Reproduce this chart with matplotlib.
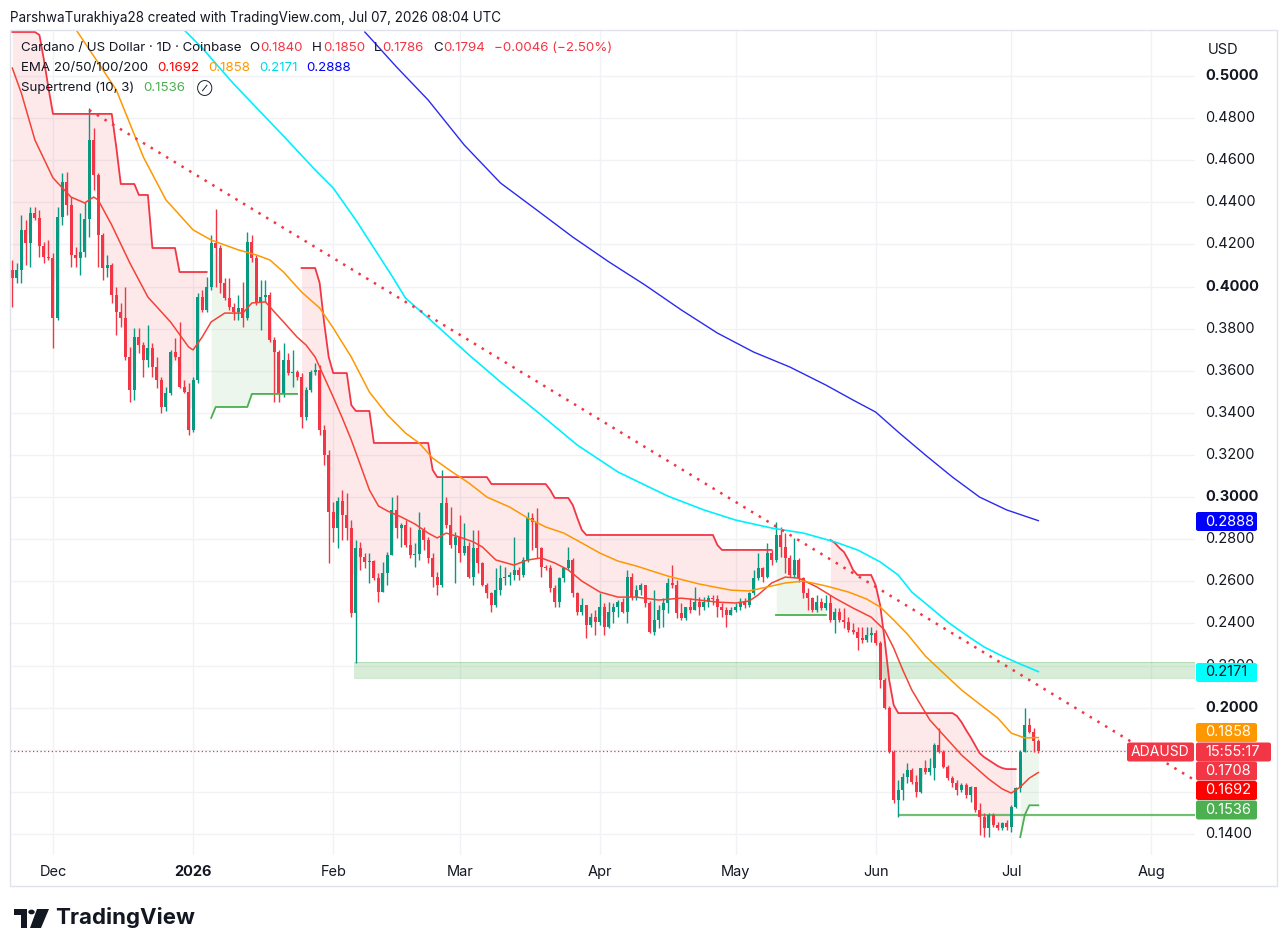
import numpy as np
import pandas as pd
import matplotlib
matplotlib.use('Agg')
import matplotlib.pyplot as plt
import matplotlib.dates as mdates
from matplotlib.patches import FancyBboxPatch, Rectangle, Polygon, Circle
from matplotlib.transforms import blended_transform_factory

plt.rcParams['font.family'] = ['Inter', 'DejaVu Sans']

# ---- data (ADAUSD daily, Coinbase) ----
start = '2025-11-22'
open0 = 0.4079
close = [0.4041, 0.4079, 0.4269, 0.4207, 0.4349, 0.4326, 0.4192, 0.4140, 0.4136, 0.3851,
         0.4330, 0.4496, 0.4387, 0.4150, 0.4136, 0.4164, 0.4321, 0.4696, 0.4530, 0.4245,
         0.4088, 0.4102, 0.3960, 0.3879, 0.3851, 0.3665, 0.3509, 0.3760, 0.3722, 0.3651,
         0.3708, 0.3618, 0.3556, 0.3428, 0.3494, 0.3689, 0.3665, 0.3523, 0.3499, 0.3319,
         0.3556, 0.3950, 0.3889, 0.3998, 0.4207, 0.4183, 0.4017, 0.3946, 0.3903, 0.3879,
         0.3898, 0.3851, 0.4211, 0.4136, 0.3927, 0.3950, 0.3960, 0.3746, 0.3689, 0.3494,
         0.3651, 0.3589, 0.3594, 0.3570, 0.3380, 0.3509, 0.3594, 0.3604, 0.3319, 0.3200,
         0.2929, 0.2853, 0.2981, 0.2915, 0.2853, 0.2449, 0.2758, 0.2715, 0.2692, 0.2696,
         0.2615, 0.2549, 0.2639, 0.2725, 0.2939, 0.2853, 0.2867, 0.2772, 0.2725, 0.2730,
         0.2844, 0.2796, 0.2711, 0.2620, 0.2582, 0.2972, 0.2867, 0.2772, 0.2810, 0.2734,
         0.2768, 0.2620, 0.2758, 0.2687, 0.2582, 0.2544, 0.2487, 0.2558, 0.2615, 0.2620,
         0.2630, 0.2654, 0.2630, 0.2701, 0.2901, 0.2882, 0.2758, 0.2668, 0.2663, 0.2568,
         0.2501, 0.2615, 0.2663, 0.2701, 0.2544, 0.2454, 0.2487, 0.2392, 0.2430, 0.2406,
         0.2478, 0.2383, 0.2454, 0.2478, 0.2501, 0.2454, 0.2620, 0.2525, 0.2558, 0.2582,
         0.2497, 0.2359, 0.2416, 0.2463, 0.2497, 0.2592, 0.2582, 0.2449, 0.2425, 0.2478,
         0.2463, 0.2501, 0.2478, 0.2501, 0.2520, 0.2516, 0.2478, 0.2463, 0.2440, 0.2463,
         0.2478, 0.2501, 0.2487, 0.2544, 0.2615, 0.2663, 0.2620, 0.2734, 0.2701, 0.2820,
         0.2763, 0.2711, 0.2630, 0.2701, 0.2615, 0.2544, 0.2520, 0.2463, 0.2501, 0.2473,
         0.2497, 0.2416, 0.2454, 0.2416, 0.2406, 0.2368, 0.2359, 0.2331, 0.2321, 0.2345,
         0.2354, 0.2307, 0.2131, 0.1998, 0.1789, 0.1561, 0.1609, 0.1670, 0.1703, 0.1647,
         0.1599, 0.1713, 0.1694, 0.1713, 0.1822, 0.1789, 0.1718, 0.1665, 0.1642, 0.1609,
         0.1632, 0.1585, 0.1623, 0.1514, 0.1480, 0.1428, 0.1490, 0.1442, 0.1428, 0.1452,
         0.1433, 0.1528, 0.1618, 0.1789, 0.1917, 0.1884, 0.1840, 0.1794]
high = [0.4126, 0.4112, 0.4340, 0.4316, 0.4378, 0.4378, 0.4364, 0.4211, 0.4221, 0.4159,
        0.4378, 0.4539, 0.4544, 0.4425, 0.4188, 0.4349, 0.4401, 0.4848, 0.4753, 0.4539,
        0.4254, 0.4150, 0.4112, 0.3998, 0.3922, 0.3998, 0.3713, 0.3803, 0.3803, 0.3737,
        0.3817, 0.3732, 0.3665, 0.3570, 0.3523, 0.3699, 0.3756, 0.3832, 0.3556, 0.3542,
        0.3570, 0.3969, 0.3984, 0.4045, 0.4245, 0.4368, 0.4197, 0.4041, 0.4041, 0.3922,
        0.3960, 0.4022, 0.4259, 0.4245, 0.4150, 0.4031, 0.4031, 0.3974, 0.3760, 0.3699,
        0.3732, 0.3684, 0.3699, 0.3604, 0.3589, 0.3523, 0.3604, 0.3637, 0.3627, 0.3342,
        0.3224, 0.2977, 0.3000, 0.3034, 0.3019, 0.2891, 0.2796, 0.2787, 0.2734, 0.2734,
        0.2701, 0.2639, 0.2692, 0.2739, 0.3000, 0.3010, 0.2877, 0.2891, 0.2858, 0.2782,
        0.2929, 0.2858, 0.2810, 0.2734, 0.2644, 0.3129, 0.3000, 0.2953, 0.2834, 0.2915,
        0.2877, 0.2787, 0.2844, 0.2844, 0.2692, 0.2592, 0.2549, 0.2663, 0.2677, 0.2668,
        0.2644, 0.2810, 0.2668, 0.2715, 0.2929, 0.2924, 0.2948, 0.2763, 0.2677, 0.2677,
        0.2582, 0.2620, 0.2668, 0.2763, 0.2711, 0.2549, 0.2520, 0.2478, 0.2449, 0.2463,
        0.2544, 0.2497, 0.2501, 0.2497, 0.2511, 0.2520, 0.2654, 0.2639, 0.2582, 0.2592,
        0.2558, 0.2506, 0.2558, 0.2487, 0.2520, 0.2615, 0.2677, 0.2606, 0.2497, 0.2478,
        0.2520, 0.2573, 0.2525, 0.2525, 0.2535, 0.2535, 0.2535, 0.2497, 0.2478, 0.2478,
        0.2497, 0.2520, 0.2520, 0.2549, 0.2654, 0.2734, 0.2668, 0.2782, 0.2749, 0.2882,
        0.2858, 0.2829, 0.2725, 0.2806, 0.2711, 0.2620, 0.2568, 0.2525, 0.2535, 0.2520,
        0.2535, 0.2535, 0.2473, 0.2473, 0.2473, 0.2430, 0.2402, 0.2383, 0.2383, 0.2383,
        0.2383, 0.2368, 0.2316, 0.2140, 0.2007, 0.1799, 0.1656, 0.1689, 0.1737, 0.1713,
        0.1680, 0.1713, 0.1751, 0.1760, 0.1832, 0.1903, 0.1799, 0.1727, 0.1675, 0.1656,
        0.1642, 0.1642, 0.1627, 0.1594, 0.1547, 0.1499, 0.1499, 0.1499, 0.1457, 0.1457,
        0.1466, 0.1537, 0.1623, 0.1799, 0.1998, 0.1951, 0.1903, 0.1850]
low = [0.3903, 0.4017, 0.4017, 0.4102, 0.4093, 0.4316, 0.4140, 0.4112, 0.4126, 0.3708,
       0.3841, 0.4292, 0.4340, 0.4093, 0.4093, 0.4055, 0.4140, 0.4235, 0.4459, 0.4093,
       0.4031, 0.4045, 0.3922, 0.3770, 0.3808, 0.3651, 0.3452, 0.3461, 0.3684, 0.3570,
       0.3618, 0.3570, 0.3518, 0.3399, 0.3409, 0.3485, 0.3651, 0.3518, 0.3494, 0.3295,
       0.3309, 0.3542, 0.3879, 0.3879, 0.3984, 0.3998, 0.3969, 0.3936, 0.3889, 0.3841,
       0.3841, 0.3808, 0.3841, 0.4117, 0.3912, 0.3794, 0.3927, 0.3737, 0.3452, 0.3452,
       0.3475, 0.3580, 0.3523, 0.3556, 0.3328, 0.3366, 0.3499, 0.3580, 0.3295, 0.3153,
       0.2687, 0.2787, 0.2758, 0.2796, 0.2796, 0.2430, 0.2212, 0.2654, 0.2663, 0.2592,
       0.2606, 0.2501, 0.2549, 0.2582, 0.2725, 0.2806, 0.2763, 0.2763, 0.2711, 0.2668,
       0.2701, 0.2749, 0.2687, 0.2573, 0.2535, 0.2573, 0.2853, 0.2758, 0.2592, 0.2692,
       0.2725, 0.2615, 0.2582, 0.2639, 0.2578, 0.2520, 0.2454, 0.2478, 0.2535, 0.2582,
       0.2582, 0.2606, 0.2606, 0.2620, 0.2692, 0.2749, 0.2711, 0.2620, 0.2654, 0.2549,
       0.2478, 0.2478, 0.2596, 0.2654, 0.2525, 0.2440, 0.2440, 0.2331, 0.2383, 0.2345,
       0.2392, 0.2345, 0.2378, 0.2402, 0.2430, 0.2449, 0.2402, 0.2511, 0.2511, 0.2535,
       0.2478, 0.2354, 0.2345, 0.2378, 0.2383, 0.2449, 0.2568, 0.2425, 0.2416, 0.2416,
       0.2449, 0.2463, 0.2440, 0.2463, 0.2478, 0.2487, 0.2430, 0.2430, 0.2383, 0.2440,
       0.2454, 0.2463, 0.2473, 0.2478, 0.2535, 0.2606, 0.2596, 0.2615, 0.2677, 0.2692,
       0.2715, 0.2639, 0.2620, 0.2620, 0.2596, 0.2520, 0.2463, 0.2454, 0.2454, 0.2463,
       0.2463, 0.2406, 0.2354, 0.2406, 0.2378, 0.2359, 0.2350, 0.2274, 0.2307, 0.2312,
       0.2312, 0.2297, 0.2093, 0.1995, 0.1785, 0.1547, 0.1480, 0.1561, 0.1642, 0.1637,
       0.1575, 0.1594, 0.1684, 0.1680, 0.1656, 0.1784, 0.1713, 0.1656, 0.1623, 0.1585,
       0.1599, 0.1571, 0.1551, 0.1504, 0.1395, 0.1385, 0.1385, 0.1433, 0.1419, 0.1419,
       0.1419, 0.1409, 0.1523, 0.1599, 0.1789, 0.1879, 0.1789, 0.1786]

# EMA lines, read at sample days (day number counted from the first candle)
ema20_day = [0, 2, 5, 9, 13, 16, 18, 19, 22, 26, 30, 35, 39, 40, 42, 44, 47, 51, 53, 56,
             58, 60, 63, 65, 67, 69, 71, 73, 75, 77, 79, 81, 83, 86, 89, 92, 94, 96, 99, 102,
             104, 107, 111, 114, 117, 120, 123, 126, 130, 134, 138, 143, 148, 152, 156, 160, 163, 165, 168, 171,
             174, 178, 182, 186, 190, 193, 195, 197, 199, 201, 203, 206, 210, 213, 216, 219, 221, 223, 225, 227]
ema20_val = [0.5038, 0.4919, 0.4696, 0.4516, 0.4425, 0.4397, 0.4425, 0.4411, 0.4292, 0.4112,
             0.3950, 0.3832, 0.3713, 0.3699, 0.3760, 0.3832, 0.3874, 0.3874, 0.3922, 0.3927,
             0.3879, 0.3832, 0.3760, 0.3722, 0.3665, 0.3570, 0.3475, 0.3376, 0.3271, 0.3153,
             0.3034, 0.2958, 0.2934, 0.2906, 0.2873, 0.2829, 0.2806, 0.2829, 0.2810, 0.2787,
             0.2763, 0.2701, 0.2677, 0.2701, 0.2711, 0.2687, 0.2654, 0.2601, 0.2549, 0.2525,
             0.2525, 0.2511, 0.2520, 0.2511, 0.2501, 0.2497, 0.2506, 0.2535, 0.2592, 0.2620,
             0.2615, 0.2573, 0.2520, 0.2473, 0.2430, 0.2368, 0.2283, 0.2179, 0.2084, 0.2012,
             0.1941, 0.1870, 0.1775, 0.1718, 0.1661, 0.1614, 0.1594, 0.1623, 0.1665, 0.1692]
ema50_day = [14, 18, 23, 29, 34, 36, 40, 44, 50, 54, 57, 60, 64, 68, 71, 75, 79, 83, 87, 90,
             93, 97, 101, 105, 110, 114, 118, 122, 126, 130, 134, 138, 145, 152, 159, 163, 167, 171, 175, 180,
             185, 189, 192, 195, 198, 202, 206, 210, 214, 218, 221, 224, 227]
ema50_val = [0.5223, 0.5095, 0.4934, 0.4615, 0.4411, 0.4364, 0.4269, 0.4221, 0.4174, 0.4150,
             0.4126, 0.4069, 0.3974, 0.3898, 0.3803, 0.3665, 0.3499, 0.3390, 0.3304, 0.3257,
             0.3185, 0.3124, 0.3067, 0.3000, 0.2953, 0.2901, 0.2858, 0.2829, 0.2782, 0.2734,
             0.2696, 0.2673, 0.2625, 0.2587, 0.2558, 0.2554, 0.2573, 0.2592, 0.2601, 0.2578,
             0.2549, 0.2516, 0.2478, 0.2416, 0.2350, 0.2245, 0.2164, 0.2084, 0.2017, 0.1951,
             0.1879, 0.1856, 0.1858]
ema100_day = [38, 42, 49, 53, 60, 67, 71, 76, 80, 84, 87, 92, 101, 108, 117, 125, 134, 145, 153, 160,
              168, 175, 182, 187, 192, 196, 199, 203, 207, 211, 215, 219, 223, 227]
ema100_val = [0.5219, 0.5133, 0.4962, 0.4872, 0.4715, 0.4554, 0.4468, 0.4316, 0.4183, 0.4050,
              0.3945, 0.3851, 0.3676, 0.3547, 0.3390, 0.3247, 0.3119, 0.3005, 0.2939, 0.2891,
              0.2853, 0.2829, 0.2787, 0.2749, 0.2692, 0.2630, 0.2549, 0.2478, 0.2406, 0.2345,
              0.2288, 0.2245, 0.2207, 0.2171]
ema200_day = [78, 81, 85, 92, 100, 108, 116, 124, 132, 140, 148, 156, 164, 172, 180, 186, 191, 196, 202, 208,
              214, 220, 227]
ema200_val = [0.5209, 0.5138, 0.5043, 0.4886, 0.4672, 0.4492, 0.4364, 0.4235, 0.4117, 0.4007,
              0.3889, 0.3779, 0.3689, 0.3618, 0.3532, 0.3461, 0.3404, 0.3309, 0.3200, 0.3095,
              0.3000, 0.2939, 0.2888]

# Supertrend (10, 3): levels with how many days each holds, and trend runs
st_values = [0.5209, 0.5195, 0.5076, 0.4943, 0.4820, 0.4663, 0.4487, 0.4435, 0.4183, 0.4069,
             0.3376, 0.3428, 0.3490,
             0.4088, 0.4017, 0.3827, 0.3665, 0.3589, 0.3437, 0.3409, 0.3257, 0.3129, 0.3095,
             0.3062, 0.3034, 0.2996, 0.2962, 0.2901, 0.2844, 0.2820, 0.2772, 0.2749,
             0.2440,
             0.2796, 0.2782, 0.2758, 0.2739, 0.2701, 0.2654, 0.2630, 0.2582, 0.2487, 0.2321,
             0.2131, 0.2012, 0.1974, 0.1960, 0.1931, 0.1894, 0.1860, 0.1822, 0.1784, 0.1765,
             0.1751, 0.1737, 0.1723, 0.1713, 0.1708,
             0.1385, 0.1490, 0.1536]
st_counts = [6, 1, 1, 1, 14, 1, 4, 3, 6, 7,
             1, 8, 11,
             4, 1, 1, 1, 4, 1, 4, 13, 1, 12,
             13, 1, 4, 1, 1, 1, 29, 1, 12,
             12,
             1, 1, 1, 1, 1, 1, 4, 1, 1, 1,
             1, 1, 13, 1, 1, 1, 1, 1, 1, 1,
             1, 1, 1, 1, 3,
             1, 1, 3]
trend_sign = [-1, 1, -1, 1, -1, 1]
trend_len = [44, 20, 105, 12, 42, 5]

# drawings
trend_day = [17, 262]
trend_price = [0.4838, 0.1650]
zone_day = 76
zone_low, zone_high = 0.2141, 0.2217
support_day = 196
support_price = 0.1490

price_ticks = [0.14, 0.16, 0.18, 0.20, 0.22, 0.24, 0.26, 0.28, 0.30, 0.32,
               0.34, 0.36, 0.38, 0.40, 0.42, 0.44, 0.46, 0.48, 0.50]
hidden_ticks = [0.16, 0.18]   # covered by the value tags on the price scale
month_ticks = ['2025-12-01', '2026-01-01', '2026-02-01', '2026-03-01', '2026-04-01',
               '2026-05-01', '2026-06-01', '2026-07-01', '2026-08-01']
month_labels = ['Dec', '2026', 'Feb', 'Mar', 'Apr', 'May', 'Jun', 'Jul', 'Aug']

UP, DN = '#089981', '#F23645'
TXT = '#131722'
W, H = 1288, 952

def fx(px):
    return px / W

def fy(py):
    return 1 - py / H

fig = plt.figure(figsize=(W / 100, H / 100), dpi=100)
fig.patch.set_facecolor('white')
L, R, T, B = 10, 1195, 30, 855
ax = fig.add_axes([fx(L), fy(B), (R - L) / W, (B - T) / H])
ax.set_facecolor('white')
for s in ax.spines.values():
    s.set_visible(False)

t0 = mdates.date2num(pd.Timestamp(start))
o = np.r_[open0, close[:-1]]
c = np.array(close)
hi = np.array(high)
lo = np.array(low)
x = t0 + np.arange(len(c))
xmax = t0 + 261.66
ax.set_xlim(t0 - 0.51, xmax)
ax.set_ylim(0.1300, 0.52185)

# grid
for p in price_ticks:
    ax.axhline(p, color='#F0F2F5', lw=1, zorder=0)
mt = [mdates.date2num(pd.Timestamp(d)) for d in month_ticks]
for m in mt:
    ax.axvline(m, color='#F0F2F5', lw=1, zorder=0)

# supertrend and its fills
st = np.repeat(st_values, st_counts)
mid = (o + c) / 2
pos = 0
for sg, n in zip(trend_sign, trend_len):
    sl = slice(pos, pos + n)
    col = DN if sg < 0 else '#4CAF50'
    ax.fill_between(x[sl], st[sl], mid[sl], color=col, alpha=0.11 if sg < 0 else 0.10, lw=0, zorder=1)
    ax.plot(x[sl], st[sl], color=col, lw=1.3, zorder=6)
    pos += n

# green zone and support line
ax.fill_between([t0 + zone_day - 0.5, xmax], zone_low, zone_high, color='#4CAF50', alpha=0.22, lw=0, zorder=1)
ax.hlines([zone_low, zone_high], t0 + zone_day - 0.5, xmax, color='#4CAF50', alpha=0.25, lw=0.8, zorder=1)
ax.hlines(support_price, t0 + support_day, xmax, color='#4CAF50', lw=1.6, alpha=0.8, zorder=2)

# candles
up = c >= o
cols = np.where(up, UP, DN)
body_lo = np.minimum(o, c)
body_h = np.maximum(np.abs(c - o), 0.0005)
ax.vlines(x, np.minimum(lo, body_lo), np.maximum(hi, np.maximum(o, c)), colors=cols, lw=1, zorder=4)
ax.bar(x, body_h, bottom=body_lo, width=0.66, color=cols, lw=0, zorder=5)

# EMAs
ax.plot(t0 + np.array(ema20_day), ema20_val, color='#F44336', lw=1.1, zorder=6)
ax.plot(t0 + np.array(ema50_day), ema50_val, color='#FF9800', lw=1.1, zorder=6)
ax.plot(t0 + np.array(ema100_day), ema100_val, color='#00F0FF', lw=1.2, zorder=6)
ax.plot(t0 + np.array(ema200_day), ema200_val, color='#2A2AF0', lw=1.0, zorder=6)

# trend line and last price line
ax.plot(t0 + np.array(trend_day), trend_price, color=DN, lw=1.8, ls=(0, (1, 2.6)), zorder=7)
ax.axhline(c[-1], color=DN, lw=0.9, ls=(0, (1, 2)), zorder=3)

# time axis
ax.set_yticks([])
ax.set_xticks(mt)
ax.set_xticklabels(month_labels)
ax.tick_params(axis='x', length=0, pad=7, labelsize=10.5, labelcolor=TXT)
for lbl in ax.get_xticklabels():
    if lbl.get_text() == '2026':
        lbl.set_fontweight('bold')

# price axis
ytr = blended_transform_factory(fig.transFigure, ax.transData)
for p in price_ticks:
    if p in hidden_ticks:
        continue
    bold = abs(p * 10 - round(p * 10)) < 1e-6
    fig.text(fx(1205), p, f'{p:.4f}', transform=ytr, ha='left', va='center', fontsize=10.5,
             color=TXT, fontweight='bold' if bold else 'normal', zorder=5)

def tag(y, text, bg, fg='white', x0=1196, x1=1257, h=19, center=False):
    fig.patches.append(FancyBboxPatch((fx(x0), fy(y + h / 2)), (x1 - x0) / W, h / H,
                                      boxstyle='round,pad=0,rounding_size=0.002',
                                      transform=fig.transFigure, facecolor=bg, edgecolor='none', zorder=6))
    if center:
        fig.text(fx((x0 + x1) / 2), fy(y), text, ha='center', va='center', fontsize=10, color=fg, zorder=7)
    else:
        fig.text(fx(x0 + 9), fy(y), text, ha='left', va='center', fontsize=10.5, color=fg, zorder=7)

tag(521.5, '0.2888', '#0000FF')
tag(672.5, '0.2171', '#00FFFF', fg=TXT)
tag(732.5, '0.1858', '#FF9800')
tag(752, '15:55:17', DN, x1=1271)
tag(771, '0.1708', DN)
tag(790.5, '0.1692', '#FF0000')
tag(810, '0.1536', '#4CAF50')
tag(752, 'ADAUSD', DN, x0=1127, x1=1194, center=True)

fig.text(fx(1208), fy(50), 'USD', ha='left', va='center', fontsize=10.5, color=TXT)

# legend rows: each piece placed after the previous one with a gap
renderer = fig.canvas.get_renderer()

def row(y, x0, parts, size=9.6):
    xp = x0
    for gap, s, col in parts:
        xp += gap
        t = fig.text(fx(xp), fy(y), s, ha='left', va='center', fontsize=size, color=col, zorder=8)
        xp = t.get_window_extent(renderer).x1

row(48, 21, [(0, 'Cardano / US Dollar · 1D · Coinbase', TXT), (8, 'O', TXT), (1, '0.1840', DN),
             (9, 'H', TXT), (1, '0.1850', DN), (9, 'L', TXT), (1, '0.1786', DN),
             (9, 'C', TXT), (1, '0.1794', DN), (9, '\u22120.0046 (\u22122.50%)', DN)])
row(68, 21, [(0, 'EMA 20/50/100/200', TXT), (9, '0.1692', '#FF0000'), (9, '0.1858', '#FF9800'),
             (9, '0.2171', '#00D8E8'), (9, '0.2888', '#0000FF')])
row(88, 21, [(0, 'Supertrend (10, 3)', TXT), (9, '0.1536', '#4CAF50')])
row(88, 197, [(0, '\u2298', TXT)], size=8)

fig.text(fx(10), fy(18), 'ParshwaTurakhiya28 created with TradingView.com, Jul 07, 2026 08:04 UTC',
         ha='left', va='center', fontsize=9.7, color=TXT)

# frame
fig.patches.append(Rectangle((fx(10), fy(886)), (1277 - 10) / W, (886 - 30) / H, fill=False,
                             edgecolor='#E0E3EB', lw=1, transform=fig.transFigure, zorder=0))

# TradingView logo
logo = [Polygon([(fx(14), fy(909)), (fx(27), fy(909)), (fx(27), fy(928)), (fx(21), fy(928)),
                 (fx(21), fy(915)), (fx(14), fy(915))], closed=True, transform=fig.transFigure,
                facecolor=TXT, edgecolor='none'),
        Circle((fx(31.5), fy(912)), 3.2 / W, transform=fig.transFigure, facecolor=TXT, edgecolor='none'),
        Polygon([(fx(37), fy(909)), (fx(49), fy(909)), (fx(41), fy(928)), (fx(30), fy(928))], closed=True,
                transform=fig.transFigure, facecolor=TXT, edgecolor='none')]
for p in logo:
    fig.patches.append(p)
fig.text(fx(55), fy(918), 'TradingView', ha='left', va='center', fontsize=16, fontweight='bold', color=TXT)

fig.savefig('out.png', dpi=100, facecolor='white')
